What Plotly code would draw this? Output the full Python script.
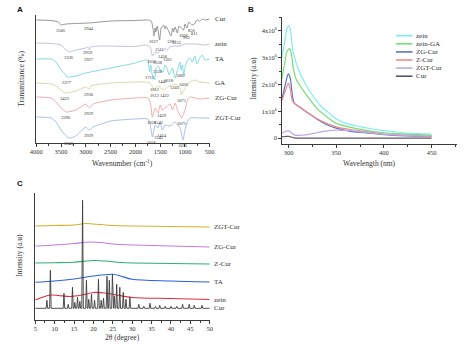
import numpy as np
import plotly.graph_objects as go

W, H = 474, 347

# ---------------- Panel A: FTIR (wavenumber, offset transmittance in px-units; larger = lower) ----
wn_cur = [4000,3700,3550,3506,3400,3200,2944,2500,2000,1750,1680,1640,1627,1600,1590,1560,1511,1480,1430,1400,
          1380,1281,1250,1230,1200,1153,1120,1026,1000,962,920,856,811,760,700,650,600,500]
t_cur = [20,20.5,22,25,24,23.5,23,21,20.5,20,21,30,36,28,32,26,40,28,25,29,
         26,36,28,32,27,33,26,30,24,28,22,25,24,20,21,19,20,19]
wn_zein = [4000,3700,3500,3400,3336,3200,3000,2959,2940,2927,2900,2700,2500,2000,1800,1700,1656,1600,1538,1500,
           1450,1400,1361,1300,1200,1100,1000,800,600,500]
t_zein = [43,43.5,45,50,52,50,48,47,48,50,47,46,46,46.5,45,47,56,52,53,50,
          51,48,50,47,46,46,44,44,45,44]
wn_ta = [4000,3700,3600,3500,3400,3377,3200,3000,2500,2000,1800,1750,1712,1690,1660,1612,1580,1538,1500,1447,
         1400,1350,1318,1250,1203,1150,1100,1082,1050,1026,1000,950,900,850,800,760,700,650,600,500]
t_ta = [59,59,62,70,75,77,76,73,68,63,60,60,72,65,75,80,68,66,70,72,
        65,70,75,68,78,70,62,70,65,75,68,60,58,62,56,64,58,55,60,59]
wn_ga = [4000,3700,3600,3500,3423,3200,3000,2930,2900,2500,2000,1800,1700,1612,1550,1422,1350,1200,1100,1071,
         1000,900,800,700,500]
t_ga = [83,84,86,90,93,91,87,89,86,83,82,82,83,90,86,90,87,84,88,95,
        88,82,80,82,83]
wn_zg = [4000,3700,3600,3500,3390,3200,3000,2929,2850,2500,2000,1750,1700,1658,1600,1542,1500,1459,1400,1300,
         1250,1200,1150,1071,1000,950,900,700,500]
t_zg = [97,98,102,108,112,110,104,108,104,100,98,98,102,117,108,113,105,110,108,104,
        110,103,110,118,110,100,97,99,98]
wn_zgt = [4000,3700,3600,3500,3343,3200,3000,2929,2850,2500,2000,1750,1700,1656,1600,1542,1500,1454,1400,1300,
          1200,1100,1036,1000,950,900,700,500]
t_zgt = [117,118,122,130,138,136,127,130,127,121,119,119,125,137,125,128,122,130,125,126,
         122,128,140,130,122,118,118,118]

lab_cur = [3506, 2944, 1627, 1511, 1281, 1153, 1026, 962, 856, 811]
lab_zein = [3336, 2959, 2927, 1656, 1538, 1450, 1361]
lab_ta = [3377, 1712, 1612, 1538, 1447, 1318, 1203, 1082, 1026]
lab_ga = [3423, 2930, 1612, 1422, 1071]
lab_zg = [3390, 2929, 1658, 1542, 1459, 1071]
lab_zgt = [3343, 2929, 1656, 1542, 1454, 1036]

ftir_names = ["Cur", "zein", "TA", "GA", "ZG-Cur", "ZGT-Cur"]
ftir_colors = ["#8a8a8a", "#b9bcd8", "#74d6e4", "#ddd0a0", "#f0a3a3", "#9fb9e6"]
ftir_wn = [wn_cur, wn_zein, wn_ta, wn_ga, wn_zg, wn_zgt]
ftir_t = [t_cur, t_zein, t_ta, t_ga, t_zg, t_zgt]
ftir_labels = [lab_cur, lab_zein, lab_ta, lab_ga, lab_zg, lab_zgt]
ftir_ticks = [4000, 3500, 3000, 2500, 2000, 1500, 1000, 500]

# ---------------- Panel B: fluorescence ----------------
fl_zein_x = [293,296,298,300,302,304,306,310,318,325,335,342,350,360,375,390,400,410,420,435,450]
fl_zein_y = [3.0,3.6,4.05,4.2,4.05,3.4,3.05,2.6,2.0,1.6,1.15,0.95,0.72,0.55,0.43,0.33,0.28,0.24,0.2,0.17,0.15]
fl_zga_x = [293,296,298,301,303,305,308,315,320,330,340,350,365,380,400,425,450]
fl_zga_y = [2.2,2.8,3.2,3.35,3.15,2.6,2.2,1.8,1.55,1.1,0.8,0.55,0.4,0.3,0.2,0.15,0.1]
fl_zg_x = [293,296,299,300,302,304,306,310,320,330,340,350,365,380,400,425,450]
fl_zg_y = [1.45,1.9,2.35,2.4,2.2,1.6,1.3,1.2,0.95,0.7,0.5,0.37,0.25,0.2,0.13,0.08,0.05]
fl_z_x = [293,296,299,300,302,304,306,310,320,330,340,350,365,380,400,425,450]
fl_z_y = [1.4,1.7,2.0,2.05,1.8,1.4,1.3,1.2,0.95,0.72,0.55,0.42,0.32,0.25,0.15,0.1,0.06]
fl_zgt_x = [293,297,300,303,306,310,320,330,340,350,365,380,400,425,450]
fl_zgt_y = [0.18,0.25,0.28,0.2,0.12,0.1,0.13,0.2,0.27,0.3,0.28,0.22,0.15,0.1,0.07]
fl_cur_x = [293,297,300,303,306,310,350,400,450]
fl_cur_y = [0.05,0.06,0.07,0.04,0.01,0.0,0.0,0.0,0.0]
fl_names = ["zein", "zein-GA", "ZG-Cur", "Z-Cur", "ZGT-Cur", "Cur"]
fl_colors = ["#7eeef0", "#74e074", "#5874c4", "#f08888", "#c4a8e6", "#605460"]
fl_x = [fl_zein_x, fl_zga_x, fl_zg_x, fl_z_x, fl_zgt_x, fl_cur_x]
fl_y = [fl_zein_y, fl_zga_y, fl_zg_y, fl_z_y, fl_zgt_y, fl_cur_y]
fl_yticks = [0, 1, 2, 3, 4]

# ---------------- Panel C: XRD (offset intensity) ----------------
xrd_smooth_x = {
    "ZGT-Cur": [5,10,15,18,20,25,30,40,50],
    "ZG-Cur": [5,10,15,19,22,25,30,40,50],
    "Z-Cur": [5,10,15,20,23,27,30,40,50],
    "TA": [5,10,15,20,25,27,30,40,50],
    "zein": [5,7,9,11,14,17,20,23,26,30,40,50],
}
xrd_smooth_y = {
    "ZGT-Cur": [94,94.5,95,96.5,96,94.5,94,93.5,93],
    "ZG-Cur": [74,75,76.5,78,77.5,76,75,74,73],
    "Z-Cur": [57,57.3,57.8,59.5,59,57.5,57,56.5,56],
    "TA": [37.7,39,41,44,45.7,44,40.7,39,38],
    "zein": [20,23,25,24.5,23.5,25,27.5,27,25,22.5,21.5,20.5],
}
xrd_colors = {"ZGT-Cur": "#d4b02c", "ZG-Cur": "#c07ee0", "Z-Cur": "#2eb06e", "TA": "#2a5fe0", "zein": "#e0303e"}
cur_base = 11.7
cur_peak_pos = [8.0,8.9,12.4,13.5,14.6,15.2,15.9,16.5,17.2,18.2,18.8,19.5,20.3,21.3,22.0,22.6,23.5,24.1,24.9,25.4,
                26.0,26.8,27.7,28.4,29.4,31.7,33.0,34.6,36.0,37.1,38.5,40.0,41.5,43.0,44.7,46.0,48.0]
cur_peak_h = [8,38,15,4,21,6,11,7,108,28,9,14,8,29,8,10,32,28,34,12,
              24,21,16,9,11,4,2,5,2,3,2,2,2,4,4,3,3]

# ---------------- figure ----------------
def px(x):
    return x / W

def py(y):
    return 1 - y / H

SERIF = "Liberation Serif"
SANS = "Liberation Sans"
AXC = "#3a3a3a"

fig = go.Figure()
annotations = []

# Panel A traces
for name, col, wn, t, labs in zip(ftir_names, ftir_colors, ftir_wn, ftir_t, ftir_labels):
    fig.add_trace(go.Scatter(x=wn, y=t, mode="lines", line=dict(color=col, width=0.9, shape="spline", smoothing=0.5),
                             xaxis="x", yaxis="y", showlegend=False, name=name))
    wn_a = np.array(wn)[::-1]
    t_a = np.array(t)[::-1]
    prev = None
    stagger = 0
    for w in labs:
        yv = float(np.interp(w, wn_a, t_a))
        if prev is not None and abs(prev - w) < 170:
            stagger = 1 - stagger
        else:
            stagger = 0
        prev = w
        annotations.append(dict(x=w, y=yv + 1.0 + 4.0 * stagger, xref="x", yref="y", text=str(w), showarrow=False,
                                xanchor="center", yanchor="top", font=dict(family=SERIF, size=4.5, color="#333")))
    annotations.append(dict(x=px(211), y=t[-1], xref="paper", yref="y", text=name, showarrow=False,
                            xanchor="left", yanchor="middle", font=dict(family=SERIF, size=7, color="#333")))

# Panel B traces
for name, col, xs, ys in zip(fl_names, fl_colors, fl_x, fl_y):
    fig.add_trace(go.Scatter(x=xs, y=[v * 1e6 for v in ys], mode="lines",
                             line=dict(color=col, width=1.2, shape="spline", smoothing=0.6),
                             xaxis="x2", yaxis="y2", showlegend=False, name=name))

# manual legend for B
shapes = []
for i, (name, col) in enumerate(zip(fl_names, fl_colors)):
    yy = 35.7 + i * 8.1
    shapes.append(dict(type="line", xref="paper", yref="paper", x0=px(399), x1=px(416), y0=py(yy), y1=py(yy),
                       line=dict(color=col, width=1.6)))
    annotations.append(dict(x=px(418), y=py(yy), xref="paper", yref="paper", text=name, showarrow=False,
                            xanchor="left", yanchor="middle", font=dict(family=SERIF, size=7, color="#333")))

# Panel C traces
for name in ["ZGT-Cur", "ZG-Cur", "Z-Cur", "TA", "zein"]:
    fig.add_trace(go.Scatter(x=xrd_smooth_x[name], y=xrd_smooth_y[name], mode="lines",
                             line=dict(color=xrd_colors[name], width=1.1, shape="spline", smoothing=0.8),
                             xaxis="x3", yaxis="y3", showlegend=False, name=name))
    annotations.append(dict(x=px(210), y=xrd_smooth_y[name][-1], xref="paper", yref="y3", text=name,
                            showarrow=False, xanchor="left", yanchor="middle",
                            font=dict(family=SERIF, size=7, color="#333")))

cx, cy = [5.0], [cur_base]
hw = 0.2
for p, h in zip(cur_peak_pos, cur_peak_h):
    cx += [p - hw, p, p + hw]
    cy += [cur_base, cur_base + h, cur_base]
cx.append(50.0)
cy.append(cur_base)
fig.add_trace(go.Scatter(x=cx, y=cy, mode="lines", line=dict(color="#3c3c3c", width=0.9),
                         xaxis="x3", yaxis="y3", showlegend=False, name="Cur"))
annotations.append(dict(x=px(210), y=cur_base, xref="paper", yref="y3", text="Cur", showarrow=False,
                        xanchor="left", yanchor="middle", font=dict(family=SERIF, size=7, color="#333")))

# Panel letters and axis titles
for txt, x, y in [("A", 13, 9), ("B", 250, 9), ("C", 13, 183)]:
    annotations.append(dict(x=px(x), y=py(y), xref="paper", yref="paper", text="<b>%s</b>" % txt, showarrow=False,
                            xanchor="center", yanchor="middle", font=dict(family=SANS, size=8, color="#111")))
titles = [
    ("Wavenumber (cm<sup>-1</sup>)", 119, 163, 0),
    ("Transmittance (%)", 14, 79, -90),
    ("Wavelength (nm)", 372, 163, 0),
    ("Intensity (a.u)", 253, 78, -90),
    ("2θ (degree)", 119, 337, 0),
    ("Intensity (a.u)", 12, 255, -90),
]
for txt, x, y, ang in titles:
    annotations.append(dict(x=px(x), y=py(y), xref="paper", yref="paper", text=txt, showarrow=False,
                            xanchor="center", yanchor="middle",
                            textangle=ang, font=dict(family=SERIF, size=7.5, color="#333")))

tickfont = dict(family=SERIF, size=6.5, color="#333")
axis_common = dict(showgrid=False, zeroline=False, showline=True, linecolor=AXC, linewidth=1,
                   ticks="outside", ticklen=2.5, tickwidth=0.8, tickcolor=AXC, tickfont=tickfont)

fig.update_layout(
    width=W, height=H, margin=dict(l=0, r=0, t=0, b=0),
    paper_bgcolor="white", plot_bgcolor="white",
    xaxis=dict(domain=[px(30), px(208)], anchor="y", range=[4000, 500], tickvals=ftir_ticks,
               minor=dict(ticks="outside", ticklen=1.5, dtick=250, tickcolor=AXC), **axis_common),
    yaxis=dict(domain=[py(143), py(15)], anchor="x", range=[143, 15], showgrid=False, zeroline=False,
               showline=True, linecolor=AXC, linewidth=1, showticklabels=False, ticks=""),
    xaxis2=dict(domain=[px(282), px(462)], anchor="y2", range=[293, 477], tickvals=[300, 350, 400, 450],
                minor=dict(ticks="outside", ticklen=1.5, dtick=25, tickcolor=AXC), **axis_common),
    yaxis2=dict(domain=[py(144), py(17)], anchor="x2", range=[-0.22e6, 4.52e6],
                tickvals=[v * 1e6 for v in fl_yticks],
                ticktext=["0" if v == 0 else "%dx10<sup>6</sup>" % v for v in fl_yticks],
                minor=dict(ticks="outside", ticklen=1.5, dtick=0.5e6, tickcolor=AXC), **axis_common),
    xaxis3=dict(domain=[px(29), px(208)], anchor="y3", range=[5, 50], tickvals=list(range(5, 51, 5)),
                minor=dict(ticks="outside", ticklen=1.5, dtick=2.5, tickcolor=AXC), **axis_common),
    yaxis3=dict(domain=[py(320), py(193)], anchor="x3", range=[0, 127], showgrid=False, zeroline=False,
                showline=True, linecolor=AXC, linewidth=1, showticklabels=False, ticks=""),
    annotations=annotations, shapes=shapes,
)

fig.write_html("out.html")
